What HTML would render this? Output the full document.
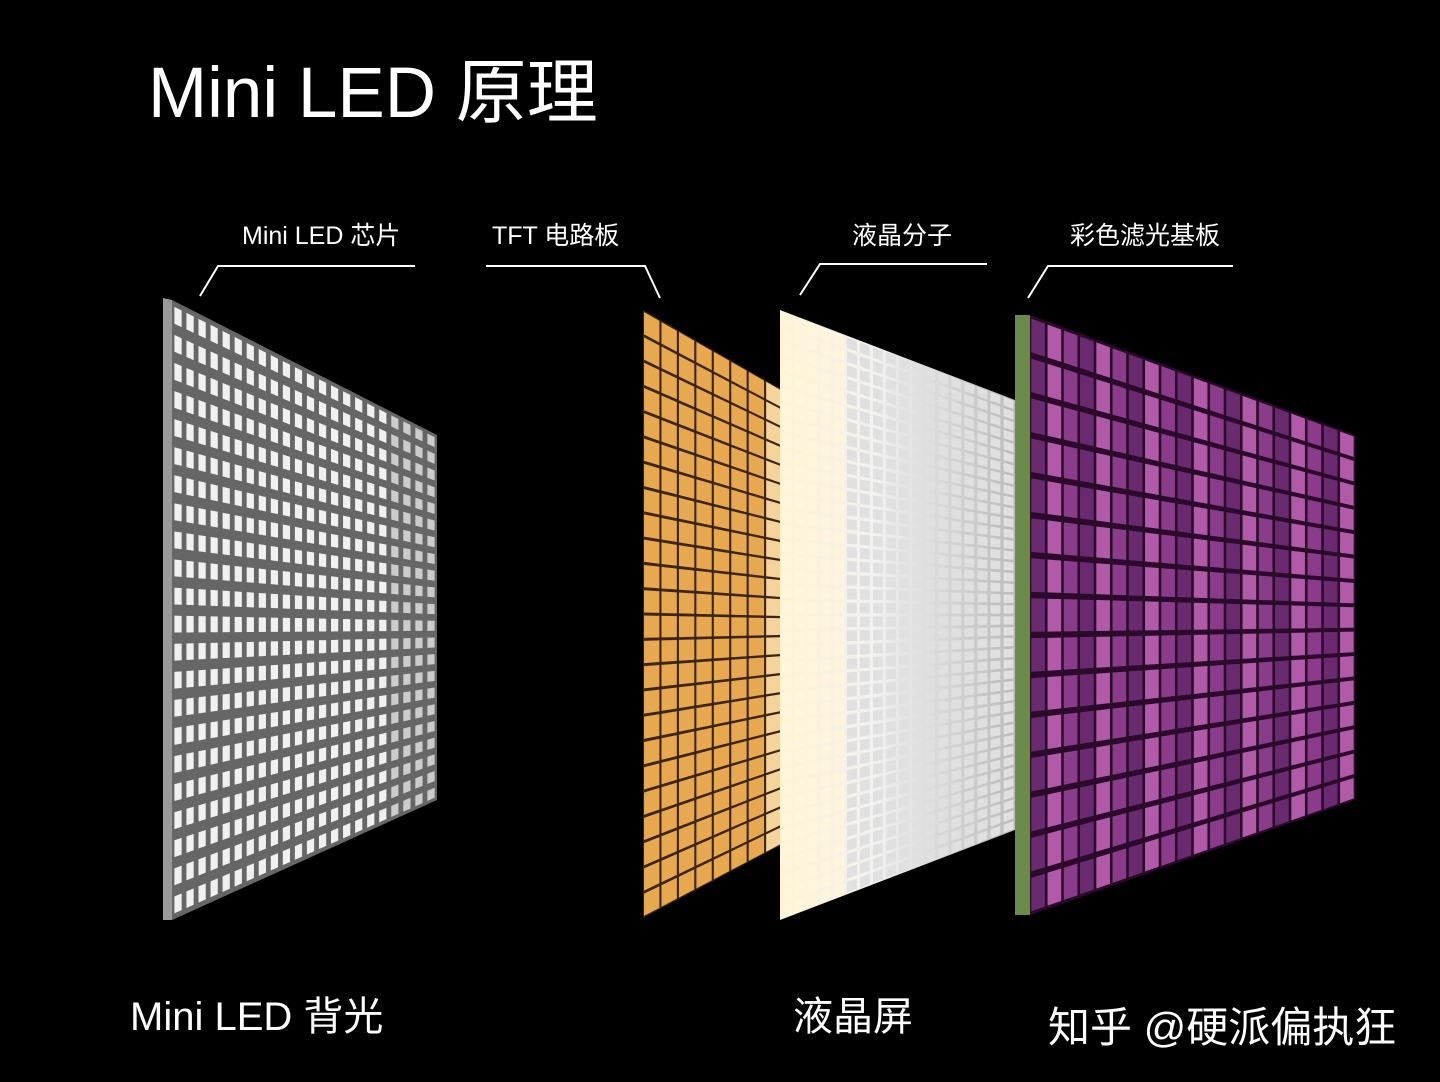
<!DOCTYPE html>
<html><head><meta charset="utf-8">
<style>
html,body{margin:0;padding:0;background:#000;}
#wrap{position:relative;width:1440px;height:1082px;overflow:hidden;background:#000;font-family:"Liberation Sans","Noto Sans CJK SC",sans-serif;color:#fff;}
.t{position:absolute;white-space:nowrap;}
</style></head>
<body>
<div id="wrap">
<div class="t" style="left:148px;top:36px;font-size:71px;">Mini LED 原理</div>
<div class="t" style="left:242px;top:216px;font-size:25px;">Mini LED 芯片</div>
<div class="t" style="left:492px;top:216px;font-size:25px;">TFT 电路板</div>
<div class="t" style="left:852px;top:216px;font-size:25px;">液晶分子</div>
<div class="t" style="left:1070px;top:216px;font-size:25px;">彩色滤光基板</div>
<div class="t" style="left:130px;top:984px;font-size:40px;">Mini LED 背光</div>
<div class="t" style="left:793px;top:984px;font-size:40px;">液晶屏</div>
<div class="t" style="left:1048px;top:994px;font-size:42px;">知乎 @硬派偏执狂</div>
<svg id="svg" width="1440" height="1082" style="position:absolute;left:0;top:0">
<defs>
<linearGradient id="lcg" x1="0" x2="1"><stop offset="0" stop-color="#fff3d0"/><stop offset="0.4" stop-color="#f2f2f2"/><stop offset="1" stop-color="#bbb"/></linearGradient>
</defs>
<g stroke="#fff" stroke-width="2" fill="none">
<polyline points="415,266 218,266 200,296"/>
<polyline points="486,266 645,266 660,298"/>
<polyline points="987,264 820,264 800,295"/>
<polyline points="1233,266 1048,266 1028,298"/>
</g>
</svg>
</div>
<script>
const svg=document.getElementById('svg');
const NS='http://www.w3.org/2000/svg';
function bil(q,u,v){const[a,b,c,d]=q;const tx=a[0]+(b[0]-a[0])*u,ty=a[1]+(b[1]-a[1])*u,bx=d[0]+(c[0]-d[0])*u,by=d[1]+(c[1]-d[1])*u;return[tx+(bx-tx)*v,ty+(by-ty)*v];}
function poly(pts,fill,name){const p=document.createElementNS(NS,'polygon');p.setAttribute('points',pts.map(x=>x.join(',')).join(' '));p.setAttribute('fill',fill);


svg.appendChild(p);return p;}
function panel(q,bg,cols,rows,gap,colorFn,name){
 poly(q,bg,name);
 for(let i=0;i<cols;i++)for(let j=0;j<rows;j++){
  const u0=(i+gap)/cols,u1=(i+1-gap)/cols,v0=(j+gap)/rows,v1=(j+1-gap)/rows;
  poly([bil(q,u0,v0),bil(q,u1,v0),bil(q,u1,v1),bil(q,u0,v1)],colorFn(i,j),name+'-cell');
 }
}
poly([[163,298],[172,300],[172,920],[163,920]],'#999','backlight-edge');
panel([[172,300],[437,435],[437,800],[172,920]],'#666',22,22,0.2,(i,j)=>i>17?'#ccc':'#f0f0f0','backlight-panel');
panel([[643,310],[800,400],[800,835],[643,918]],'#3a2510',9,24,0.06,(i,j)=>i>6?'#f4d49a':'#e8a850','tft-panel');
panel([[780,310],[1015,400],[1015,830],[780,920]],'url(#lcg)',18,40,0.12,(i,j)=>i<5?'#fff5dc':'#e0e0e0','lc-panel');
poly([[1015,315],[1030,315],[1030,915],[1015,915]],'#6c8a4a','filter-edge');
const cf=['#6a2a70','#b05aa8','#8a3c8a'];
panel([[1030,315],[1355,435],[1355,800],[1030,915]],'#2a0c2a',20,15,0.08,(i,j)=>cf[i%3],'color-filter-panel');
</script>
</body></html>
